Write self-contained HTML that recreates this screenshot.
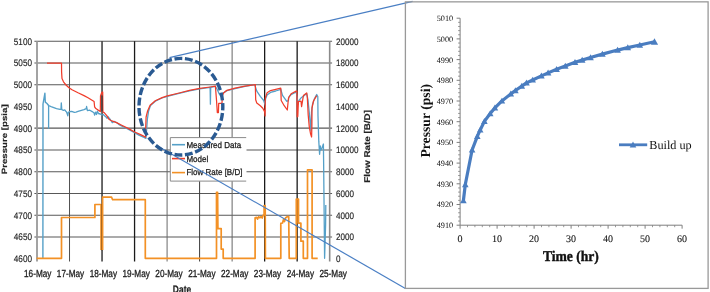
<!DOCTYPE html>
<html><head><meta charset="utf-8"><title>Pressure build-up chart</title>
<style>
html,body{margin:0;padding:0;background:#fff;}
body{width:710px;height:292px;overflow:hidden;}
svg{display:block;text-rendering:geometricPrecision;}
</style></head>
<body>
<svg width="710" height="292" viewBox="0 0 710 292">
<rect width="710" height="292" fill="#fff"/>
<g shape-rendering="auto">
<line x1="34.4" y1="236.9" x2="332.08" y2="236.9" stroke="#585858" stroke-width="1.05"/>
<line x1="34.4" y1="215.15" x2="332.08" y2="215.15" stroke="#585858" stroke-width="1.05"/>
<line x1="34.4" y1="193.4" x2="332.08" y2="193.4" stroke="#585858" stroke-width="1.05"/>
<line x1="34.4" y1="171.65" x2="332.08" y2="171.65" stroke="#585858" stroke-width="1.05"/>
<line x1="34.4" y1="149.9" x2="332.08" y2="149.9" stroke="#585858" stroke-width="1.05"/>
<line x1="34.4" y1="128.15" x2="332.08" y2="128.15" stroke="#585858" stroke-width="1.05"/>
<line x1="34.4" y1="84.65" x2="332.08" y2="84.65" stroke="#585858" stroke-width="1.05"/>
<line x1="34.4" y1="62.9" x2="332.08" y2="62.9" stroke="#585858" stroke-width="1.05"/>
<line x1="34.4" y1="41.15" x2="332.08" y2="41.15" stroke="#585858" stroke-width="1.05"/>
<line x1="37" y1="41.15" x2="37" y2="261.5" stroke="#999" stroke-width="1.8"/>
<line x1="69.52" y1="41.15" x2="69.52" y2="261.5" stroke="#505050" stroke-width="1"/>
<line x1="102.04" y1="41.15" x2="102.04" y2="261.5" stroke="#2a2a2a" stroke-width="1.4"/>
<line x1="134.56" y1="41.15" x2="134.56" y2="261.5" stroke="#1a1a1a" stroke-width="1.3"/>
<line x1="167.08" y1="41.15" x2="167.08" y2="261.5" stroke="#6a6a6a" stroke-width="1"/>
<line x1="199.6" y1="41.15" x2="199.6" y2="261.5" stroke="#3a3a3a" stroke-width="1"/>
<line x1="232.12" y1="41.15" x2="232.12" y2="261.5" stroke="#666" stroke-width="1"/>
<line x1="264.64" y1="41.15" x2="264.64" y2="261.5" stroke="#1a1a1a" stroke-width="1.3"/>
<line x1="297.16" y1="41.15" x2="297.16" y2="261.5" stroke="#1a1a1a" stroke-width="1.3"/>
<line x1="329.68" y1="41.15" x2="329.68" y2="261.5" stroke="#8a8a8a" stroke-width="1.6"/>
</g>
<text transform="translate(32,262.05) scale(1,1.16)" font-family="'Liberation Sans', Arial, sans-serif" font-size="8.2" fill="#222" stroke="#222" stroke-width="0.12" text-anchor="end">4600</text>
<text transform="translate(32,240.3) scale(1,1.16)" font-family="'Liberation Sans', Arial, sans-serif" font-size="8.2" fill="#222" stroke="#222" stroke-width="0.12" text-anchor="end">4650</text>
<text transform="translate(32,218.55) scale(1,1.16)" font-family="'Liberation Sans', Arial, sans-serif" font-size="8.2" fill="#222" stroke="#222" stroke-width="0.12" text-anchor="end">4700</text>
<text transform="translate(32,196.8) scale(1,1.16)" font-family="'Liberation Sans', Arial, sans-serif" font-size="8.2" fill="#222" stroke="#222" stroke-width="0.12" text-anchor="end">4750</text>
<text transform="translate(32,175.05) scale(1,1.16)" font-family="'Liberation Sans', Arial, sans-serif" font-size="8.2" fill="#222" stroke="#222" stroke-width="0.12" text-anchor="end">4800</text>
<text transform="translate(32,153.3) scale(1,1.16)" font-family="'Liberation Sans', Arial, sans-serif" font-size="8.2" fill="#222" stroke="#222" stroke-width="0.12" text-anchor="end">4850</text>
<text transform="translate(32,131.55) scale(1,1.16)" font-family="'Liberation Sans', Arial, sans-serif" font-size="8.2" fill="#222" stroke="#222" stroke-width="0.12" text-anchor="end">4900</text>
<text transform="translate(32,109.8) scale(1,1.16)" font-family="'Liberation Sans', Arial, sans-serif" font-size="8.2" fill="#222" stroke="#222" stroke-width="0.12" text-anchor="end">4950</text>
<text transform="translate(32,88.05) scale(1,1.16)" font-family="'Liberation Sans', Arial, sans-serif" font-size="8.2" fill="#222" stroke="#222" stroke-width="0.12" text-anchor="end">5000</text>
<text transform="translate(32,66.3) scale(1,1.16)" font-family="'Liberation Sans', Arial, sans-serif" font-size="8.2" fill="#222" stroke="#222" stroke-width="0.12" text-anchor="end">5050</text>
<text transform="translate(32,44.55) scale(1,1.16)" font-family="'Liberation Sans', Arial, sans-serif" font-size="8.2" fill="#222" stroke="#222" stroke-width="0.12" text-anchor="end">5100</text>
<text transform="translate(335.9,262.05) scale(1,1.16)" font-family="'Liberation Sans', Arial, sans-serif" font-size="8.1" fill="#222" stroke="#222" stroke-width="0.12" text-anchor="start">0</text>
<text transform="translate(335.9,240.3) scale(1,1.16)" font-family="'Liberation Sans', Arial, sans-serif" font-size="8.1" fill="#222" stroke="#222" stroke-width="0.12" text-anchor="start">2000</text>
<text transform="translate(335.9,218.55) scale(1,1.16)" font-family="'Liberation Sans', Arial, sans-serif" font-size="8.1" fill="#222" stroke="#222" stroke-width="0.12" text-anchor="start">4000</text>
<text transform="translate(335.9,196.8) scale(1,1.16)" font-family="'Liberation Sans', Arial, sans-serif" font-size="8.1" fill="#222" stroke="#222" stroke-width="0.12" text-anchor="start">6000</text>
<text transform="translate(335.9,175.05) scale(1,1.16)" font-family="'Liberation Sans', Arial, sans-serif" font-size="8.1" fill="#222" stroke="#222" stroke-width="0.12" text-anchor="start">8000</text>
<text transform="translate(335.9,153.3) scale(1,1.16)" font-family="'Liberation Sans', Arial, sans-serif" font-size="8.1" fill="#222" stroke="#222" stroke-width="0.12" text-anchor="start">10000</text>
<text transform="translate(335.9,131.55) scale(1,1.16)" font-family="'Liberation Sans', Arial, sans-serif" font-size="8.1" fill="#222" stroke="#222" stroke-width="0.12" text-anchor="start">12000</text>
<text transform="translate(335.9,109.8) scale(1,1.16)" font-family="'Liberation Sans', Arial, sans-serif" font-size="8.1" fill="#222" stroke="#222" stroke-width="0.12" text-anchor="start">14000</text>
<text transform="translate(335.9,88.05) scale(1,1.16)" font-family="'Liberation Sans', Arial, sans-serif" font-size="8.1" fill="#222" stroke="#222" stroke-width="0.12" text-anchor="start">16000</text>
<text transform="translate(335.9,66.3) scale(1,1.16)" font-family="'Liberation Sans', Arial, sans-serif" font-size="8.1" fill="#222" stroke="#222" stroke-width="0.12" text-anchor="start">18000</text>
<text transform="translate(335.9,44.55) scale(1,1.16)" font-family="'Liberation Sans', Arial, sans-serif" font-size="8.1" fill="#222" stroke="#222" stroke-width="0.12" text-anchor="start">20000</text>
<text transform="translate(37.7,276.7) scale(1,1.25)" font-family="'Liberation Sans', Arial, sans-serif" font-size="8.2" fill="#222" stroke="#222" stroke-width="0.25" text-anchor="middle">16-May</text>
<text transform="translate(70.53,276.7) scale(1,1.25)" font-family="'Liberation Sans', Arial, sans-serif" font-size="8.2" fill="#222" stroke="#222" stroke-width="0.25" text-anchor="middle">17-May</text>
<text transform="translate(103.36,276.7) scale(1,1.25)" font-family="'Liberation Sans', Arial, sans-serif" font-size="8.2" fill="#222" stroke="#222" stroke-width="0.25" text-anchor="middle">18-May</text>
<text transform="translate(136.19,276.7) scale(1,1.25)" font-family="'Liberation Sans', Arial, sans-serif" font-size="8.2" fill="#222" stroke="#222" stroke-width="0.25" text-anchor="middle">19-May</text>
<text transform="translate(169.02,276.7) scale(1,1.25)" font-family="'Liberation Sans', Arial, sans-serif" font-size="8.2" fill="#222" stroke="#222" stroke-width="0.25" text-anchor="middle">20-May</text>
<text transform="translate(201.85,276.7) scale(1,1.25)" font-family="'Liberation Sans', Arial, sans-serif" font-size="8.2" fill="#222" stroke="#222" stroke-width="0.25" text-anchor="middle">21-May</text>
<text transform="translate(234.68,276.7) scale(1,1.25)" font-family="'Liberation Sans', Arial, sans-serif" font-size="8.2" fill="#222" stroke="#222" stroke-width="0.25" text-anchor="middle">22-May</text>
<text transform="translate(267.51,276.7) scale(1,1.25)" font-family="'Liberation Sans', Arial, sans-serif" font-size="8.2" fill="#222" stroke="#222" stroke-width="0.25" text-anchor="middle">23-May</text>
<text transform="translate(300.34,276.7) scale(1,1.25)" font-family="'Liberation Sans', Arial, sans-serif" font-size="8.2" fill="#222" stroke="#222" stroke-width="0.25" text-anchor="middle">24-May</text>
<text transform="translate(333.17,276.7) scale(1,1.25)" font-family="'Liberation Sans', Arial, sans-serif" font-size="8.2" fill="#222" stroke="#222" stroke-width="0.25" text-anchor="middle">25-May</text>
<text transform="translate(182,292.6) scale(1.02,1.3)" font-family="'Liberation Sans', Arial, sans-serif" font-size="8.3" font-weight="bold" fill="#222" stroke="#222" stroke-width="0.15" text-anchor="middle">Date</text>
<text transform="translate(6.5,139.3) rotate(-90) scale(1.21,0.96)" font-family="'Liberation Sans', Arial, sans-serif" font-size="8" font-weight="bold" fill="#222" stroke="#222" stroke-width="0.15" text-anchor="middle">Pressure [psia]</text>
<text transform="translate(369.9,146.4) rotate(-90) scale(1.23,1.05)" font-family="'Liberation Sans', Arial, sans-serif" font-size="8" font-weight="bold" fill="#222" stroke="#222" stroke-width="0.15" text-anchor="middle">Flow Rate [B/D]</text>
<g fill="none" stroke-linejoin="round" stroke-linecap="butt">
<polyline points="42.9,258.3 43,104 44.9,93.2 45.3,102.1 47,103.5 48.6,105.5" stroke="#55a0c8" stroke-width="1.4"/>
<polyline points="48.6,128.8 48.6,105.5 51.1,106.6 53.8,107.6 56.5,108.6 60,109.4 61,109.4 61.3,102.8 61.8,109.7 63.4,110.3 64.8,109.9 65.5,111 66.4,111.7 67.2,113.8 67.8,115.8 68.3,112.4 69.6,111.7 71.6,111.3 74.4,112.4 76,112.1 78,111.4 84,109.7 86.2,108.6 86.6,106.5 87.4,110.6 89.8,110.2 92.2,111.6 94.1,113 94.6,115 95.5,112.1 96.5,114.5 97.4,111.1 98.4,113.5 100.3,114 101.8,115 103.2,114.5 104.6,115.9 105.6,116.5 107.1,118.3 108,116.6 110.6,120 112.3,122.6 114,121.4 116.6,122.6 119,124.6 123,126.7 128.6,129.4 133.7,132.3 138.9,135.1 144,137.4 145.9,138.4 146.6,130 147.4,119 148.6,111 150.5,105.6 155.3,101.2 162,98 167.3,96.4 179,93.4 189.5,90.8 199.8,88.8 210.1,87.3 210.4,104.2 210.7,87.3 215.3,86.4 217,89 219,93.5 222,97.5 222.6,93.5 226.9,90.6 235,88.6 245,86.3 254.7,84.7 256.8,91.1 260.3,96.3 263.7,100.5 265.2,105.2 265.5,99 267.1,95 270.5,92.4 275.7,91 280.8,89.4 282.5,95.4 286.8,101.4 288.4,100.5 288.9,97 291.1,94.6 296.2,92 297.2,98 297.8,104.5 299,100.5 301.1,97.8 303.4,96.2 306.7,93.6 308,100 309.5,115 311,131 311.5,112 312.5,104.5 314.5,98.5 316.7,94.5 317.8,96.5 318,116 318.8,141.4 319.6,154.3 320.3,146 321,150 322.1,147.8 323.4,144 323.6,160 324.6,258.3 325.6,225 325.8,205" stroke="#55a0c8" stroke-width="1.3"/>
<polyline points="47,63.1 61.5,63.1 61.6,72 62,78.5 63.5,81.8 66,85 69,87.8 72,89.8 78,92.8 84,95.6 88,97.8 94.1,101.5 94.6,106.8 95.5,108.2 98.4,110.2 100.3,111.6 100.5,96 101.8,92.4 102.7,92 102.9,112 104.2,112.6 107,115.9 108.9,119.2 111,120.5 113.2,121.4 116.6,122.6 121.7,125.2 128.6,128.6 134.6,132 140.6,134.6 145.6,137.1 145.6,130 146.1,117 147.6,111 150.1,105.2 155.3,100.7 162.1,97.6 167.3,95.9 179.2,93 189.5,90.4 199.8,88.4 210.1,87 215.4,86.2 216.5,100 217.3,112.5 218.4,112.5 218.7,103.3 222,103.3 222.3,96 223.5,93 226.9,90.3 235,88.2 245,86.2 255.3,84.6 255.7,99.7 256.8,103.1 260.3,105.7 262.8,108.3 264.6,111.7 265.1,116 265.3,98 267.1,92.8 270.5,90.6 275.7,89.4 280.8,88.2 281.2,100.5 284.2,105.7 287.3,110 288.5,98 291.1,93.7 296.2,91.1 296.9,91 297.2,116.8 297.8,116.6 298.4,101.5 301,101.2 301.6,106.7 303.4,95.6 306.7,92.9 307.3,97 308.2,115 309.3,127 310.5,133.5 311.6,137 311.9,125 312,108 313.5,101 316.7,95.6" stroke="#f03c2a" stroke-width="1.25"/>
<polyline points="36.6,258.3 61.5,258.3 61.5,217.5 94.9,217.5 94.9,204.5 101.2,204.5" stroke="#f39125" stroke-width="1.7"/>
<polyline points="101.6,204.5 101.6,250" stroke="#f39125" stroke-width="2.8"/>
<line x1="101.9" y1="204" x2="101.9" y2="250.5" stroke="#5a3a1a" stroke-width="1"/>
<line x1="102.04" y1="95.5" x2="102.04" y2="111.5" stroke="#333" stroke-width="1.2"/>
<rect x="296.3" y="199.2" width="2.2" height="24" fill="#f39125"/>
<line x1="297.1" y1="199.2" x2="297.1" y2="223" stroke="#6a4a2a" stroke-width="0.8"/>
<polyline points="102.6,250 102.6,197.2 111.6,197.2 112.6,199.7 145.3,199.7 145.3,258.3 216.5,258.3 216.5,192.4 217.6,192.4 217.9,228.6 221.2,228.6 221.2,249.1 223.2,249.1 223.2,258.3 255.1,258.3 255.1,217.8 256.5,217.4 257.5,219.2 258.5,216.8 260,217.8 261,216.6 262.2,218 263.2,215.2 264.1,215 264.1,205.5 265.2,205.5 265.4,258.3 280.8,258.3 280.8,223.4 282.5,223 283.5,219.5 284.5,221.5 285.5,218 286.5,217.2 287.5,216.5 288.7,216.5 289.2,258.3 296.3,258.3 296.3,199.2 298.5,199.2 298.5,223.2 300.9,223.2 300.9,241.2 303.3,241.2 303.3,258.3 307.5,258.3 307.5,169.9 312.1,169.9 312.1,258.3 317.7,258.3" stroke="#f39125" stroke-width="1.7"/>
</g>
<rect x="170.3" y="137.6" width="76.2" height="43.6" fill="#fff"/>
<polyline points="246.2,137.6 170.3,137.6 170.3,181.1 246.2,181.1" fill="none" stroke="#8a8a8a" stroke-width="1"/>
<line x1="172" y1="144.7" x2="185" y2="144.7" stroke="#55a0c8" stroke-width="1.6"/>
<line x1="172" y1="158.6" x2="185" y2="158.6" stroke="#f03c2a" stroke-width="1.6"/>
<line x1="172" y1="172.6" x2="185" y2="172.6" stroke="#f39125" stroke-width="1.6"/>
<text transform="translate(186.4,148.1) scale(1,1.08)" font-family="'Liberation Sans', Arial, sans-serif" font-size="8" fill="#222" stroke="#222" stroke-width="0.25" text-anchor="start">Measured Data</text>
<text transform="translate(186.4,162) scale(1,1.08)" font-family="'Liberation Sans', Arial, sans-serif" font-size="8" fill="#222" stroke="#222" stroke-width="0.25" text-anchor="start">Model</text>
<text transform="translate(186.4,175.3) scale(1,1.08)" font-family="'Liberation Sans', Arial, sans-serif" font-size="8" fill="#222" stroke="#222" stroke-width="0.25" text-anchor="start">Flow Rate [B/D]</text>
<line x1="169.5" y1="57.6" x2="412.6" y2="1.4" stroke="#4a7fc4" stroke-width="1.2"/>
<line x1="157.5" y1="146" x2="405.4" y2="288.4" stroke="#4a7fc4" stroke-width="1.2"/>
<ellipse cx="180.9" cy="106.7" rx="41.9" ry="48.3" fill="none" stroke="#2a5a92" stroke-width="3.4" stroke-dasharray="7.88 2.63" stroke-dashoffset="4.2"/>
<rect x="405.4" y="1.85" width="302.7" height="286.55" fill="none" stroke="#999" stroke-width="1.3"/>
<line x1="460.1" y1="18.2" x2="460.1" y2="225.2" stroke="#7f7f7f" stroke-width="1"/>
<line x1="456.6" y1="225.2" x2="460.1" y2="225.2" stroke="#7f7f7f" stroke-width="1"/>
<line x1="458.1" y1="221.06" x2="460.1" y2="221.06" stroke="#7f7f7f" stroke-width="0.8"/>
<line x1="458.1" y1="216.92" x2="460.1" y2="216.92" stroke="#7f7f7f" stroke-width="0.8"/>
<line x1="458.1" y1="212.78" x2="460.1" y2="212.78" stroke="#7f7f7f" stroke-width="0.8"/>
<line x1="458.1" y1="208.64" x2="460.1" y2="208.64" stroke="#7f7f7f" stroke-width="0.8"/>
<line x1="456.6" y1="204.5" x2="460.1" y2="204.5" stroke="#7f7f7f" stroke-width="1"/>
<line x1="458.1" y1="200.36" x2="460.1" y2="200.36" stroke="#7f7f7f" stroke-width="0.8"/>
<line x1="458.1" y1="196.22" x2="460.1" y2="196.22" stroke="#7f7f7f" stroke-width="0.8"/>
<line x1="458.1" y1="192.08" x2="460.1" y2="192.08" stroke="#7f7f7f" stroke-width="0.8"/>
<line x1="458.1" y1="187.94" x2="460.1" y2="187.94" stroke="#7f7f7f" stroke-width="0.8"/>
<line x1="456.6" y1="183.8" x2="460.1" y2="183.8" stroke="#7f7f7f" stroke-width="1"/>
<line x1="458.1" y1="179.66" x2="460.1" y2="179.66" stroke="#7f7f7f" stroke-width="0.8"/>
<line x1="458.1" y1="175.52" x2="460.1" y2="175.52" stroke="#7f7f7f" stroke-width="0.8"/>
<line x1="458.1" y1="171.38" x2="460.1" y2="171.38" stroke="#7f7f7f" stroke-width="0.8"/>
<line x1="458.1" y1="167.24" x2="460.1" y2="167.24" stroke="#7f7f7f" stroke-width="0.8"/>
<line x1="456.6" y1="163.1" x2="460.1" y2="163.1" stroke="#7f7f7f" stroke-width="1"/>
<line x1="458.1" y1="158.96" x2="460.1" y2="158.96" stroke="#7f7f7f" stroke-width="0.8"/>
<line x1="458.1" y1="154.82" x2="460.1" y2="154.82" stroke="#7f7f7f" stroke-width="0.8"/>
<line x1="458.1" y1="150.68" x2="460.1" y2="150.68" stroke="#7f7f7f" stroke-width="0.8"/>
<line x1="458.1" y1="146.54" x2="460.1" y2="146.54" stroke="#7f7f7f" stroke-width="0.8"/>
<line x1="456.6" y1="142.4" x2="460.1" y2="142.4" stroke="#7f7f7f" stroke-width="1"/>
<line x1="458.1" y1="138.26" x2="460.1" y2="138.26" stroke="#7f7f7f" stroke-width="0.8"/>
<line x1="458.1" y1="134.12" x2="460.1" y2="134.12" stroke="#7f7f7f" stroke-width="0.8"/>
<line x1="458.1" y1="129.98" x2="460.1" y2="129.98" stroke="#7f7f7f" stroke-width="0.8"/>
<line x1="458.1" y1="125.84" x2="460.1" y2="125.84" stroke="#7f7f7f" stroke-width="0.8"/>
<line x1="456.6" y1="121.7" x2="460.1" y2="121.7" stroke="#7f7f7f" stroke-width="1"/>
<line x1="458.1" y1="117.56" x2="460.1" y2="117.56" stroke="#7f7f7f" stroke-width="0.8"/>
<line x1="458.1" y1="113.42" x2="460.1" y2="113.42" stroke="#7f7f7f" stroke-width="0.8"/>
<line x1="458.1" y1="109.28" x2="460.1" y2="109.28" stroke="#7f7f7f" stroke-width="0.8"/>
<line x1="458.1" y1="105.14" x2="460.1" y2="105.14" stroke="#7f7f7f" stroke-width="0.8"/>
<line x1="456.6" y1="101" x2="460.1" y2="101" stroke="#7f7f7f" stroke-width="1"/>
<line x1="458.1" y1="96.86" x2="460.1" y2="96.86" stroke="#7f7f7f" stroke-width="0.8"/>
<line x1="458.1" y1="92.72" x2="460.1" y2="92.72" stroke="#7f7f7f" stroke-width="0.8"/>
<line x1="458.1" y1="88.58" x2="460.1" y2="88.58" stroke="#7f7f7f" stroke-width="0.8"/>
<line x1="458.1" y1="84.44" x2="460.1" y2="84.44" stroke="#7f7f7f" stroke-width="0.8"/>
<line x1="456.6" y1="80.3" x2="460.1" y2="80.3" stroke="#7f7f7f" stroke-width="1"/>
<line x1="458.1" y1="76.16" x2="460.1" y2="76.16" stroke="#7f7f7f" stroke-width="0.8"/>
<line x1="458.1" y1="72.02" x2="460.1" y2="72.02" stroke="#7f7f7f" stroke-width="0.8"/>
<line x1="458.1" y1="67.88" x2="460.1" y2="67.88" stroke="#7f7f7f" stroke-width="0.8"/>
<line x1="458.1" y1="63.74" x2="460.1" y2="63.74" stroke="#7f7f7f" stroke-width="0.8"/>
<line x1="456.6" y1="59.6" x2="460.1" y2="59.6" stroke="#7f7f7f" stroke-width="1"/>
<line x1="458.1" y1="55.46" x2="460.1" y2="55.46" stroke="#7f7f7f" stroke-width="0.8"/>
<line x1="458.1" y1="51.32" x2="460.1" y2="51.32" stroke="#7f7f7f" stroke-width="0.8"/>
<line x1="458.1" y1="47.18" x2="460.1" y2="47.18" stroke="#7f7f7f" stroke-width="0.8"/>
<line x1="458.1" y1="43.04" x2="460.1" y2="43.04" stroke="#7f7f7f" stroke-width="0.8"/>
<line x1="456.6" y1="38.9" x2="460.1" y2="38.9" stroke="#7f7f7f" stroke-width="1"/>
<line x1="458.1" y1="34.76" x2="460.1" y2="34.76" stroke="#7f7f7f" stroke-width="0.8"/>
<line x1="458.1" y1="30.62" x2="460.1" y2="30.62" stroke="#7f7f7f" stroke-width="0.8"/>
<line x1="458.1" y1="26.48" x2="460.1" y2="26.48" stroke="#7f7f7f" stroke-width="0.8"/>
<line x1="458.1" y1="22.34" x2="460.1" y2="22.34" stroke="#7f7f7f" stroke-width="0.8"/>
<line x1="456.6" y1="18.2" x2="460.1" y2="18.2" stroke="#7f7f7f" stroke-width="1"/>
<text x="453.1" y="228.1" font-family="'Liberation Serif', 'Times New Roman', serif" font-size="8.2" fill="#111" text-anchor="end">4910</text>
<text x="453.1" y="207.4" font-family="'Liberation Serif', 'Times New Roman', serif" font-size="8.2" fill="#111" text-anchor="end">4920</text>
<text x="453.1" y="186.7" font-family="'Liberation Serif', 'Times New Roman', serif" font-size="8.2" fill="#111" text-anchor="end">4930</text>
<text x="453.1" y="166" font-family="'Liberation Serif', 'Times New Roman', serif" font-size="8.2" fill="#111" text-anchor="end">4940</text>
<text x="453.1" y="145.3" font-family="'Liberation Serif', 'Times New Roman', serif" font-size="8.2" fill="#111" text-anchor="end">4950</text>
<text x="453.1" y="124.6" font-family="'Liberation Serif', 'Times New Roman', serif" font-size="8.2" fill="#111" text-anchor="end">4960</text>
<text x="453.1" y="103.9" font-family="'Liberation Serif', 'Times New Roman', serif" font-size="8.2" fill="#111" text-anchor="end">4970</text>
<text x="453.1" y="83.2" font-family="'Liberation Serif', 'Times New Roman', serif" font-size="8.2" fill="#111" text-anchor="end">4980</text>
<text x="453.1" y="62.5" font-family="'Liberation Serif', 'Times New Roman', serif" font-size="8.2" fill="#111" text-anchor="end">4990</text>
<text x="453.1" y="41.8" font-family="'Liberation Serif', 'Times New Roman', serif" font-size="8.2" fill="#111" text-anchor="end">5000</text>
<text x="453.1" y="21.1" font-family="'Liberation Serif', 'Times New Roman', serif" font-size="8.2" fill="#111" text-anchor="end">5010</text>
<line x1="460.1" y1="225.2" x2="682.1" y2="225.2" stroke="#7f7f7f" stroke-width="1"/>
<line x1="460.1" y1="225.2" x2="460.1" y2="228.7" stroke="#7f7f7f" stroke-width="1"/>
<line x1="467.5" y1="225.2" x2="467.5" y2="227.2" stroke="#7f7f7f" stroke-width="0.8"/>
<line x1="474.9" y1="225.2" x2="474.9" y2="227.2" stroke="#7f7f7f" stroke-width="0.8"/>
<line x1="482.3" y1="225.2" x2="482.3" y2="227.2" stroke="#7f7f7f" stroke-width="0.8"/>
<line x1="489.7" y1="225.2" x2="489.7" y2="227.2" stroke="#7f7f7f" stroke-width="0.8"/>
<line x1="497.1" y1="225.2" x2="497.1" y2="228.7" stroke="#7f7f7f" stroke-width="1"/>
<line x1="504.5" y1="225.2" x2="504.5" y2="227.2" stroke="#7f7f7f" stroke-width="0.8"/>
<line x1="511.9" y1="225.2" x2="511.9" y2="227.2" stroke="#7f7f7f" stroke-width="0.8"/>
<line x1="519.3" y1="225.2" x2="519.3" y2="227.2" stroke="#7f7f7f" stroke-width="0.8"/>
<line x1="526.7" y1="225.2" x2="526.7" y2="227.2" stroke="#7f7f7f" stroke-width="0.8"/>
<line x1="534.1" y1="225.2" x2="534.1" y2="228.7" stroke="#7f7f7f" stroke-width="1"/>
<line x1="541.5" y1="225.2" x2="541.5" y2="227.2" stroke="#7f7f7f" stroke-width="0.8"/>
<line x1="548.9" y1="225.2" x2="548.9" y2="227.2" stroke="#7f7f7f" stroke-width="0.8"/>
<line x1="556.3" y1="225.2" x2="556.3" y2="227.2" stroke="#7f7f7f" stroke-width="0.8"/>
<line x1="563.7" y1="225.2" x2="563.7" y2="227.2" stroke="#7f7f7f" stroke-width="0.8"/>
<line x1="571.1" y1="225.2" x2="571.1" y2="228.7" stroke="#7f7f7f" stroke-width="1"/>
<line x1="578.5" y1="225.2" x2="578.5" y2="227.2" stroke="#7f7f7f" stroke-width="0.8"/>
<line x1="585.9" y1="225.2" x2="585.9" y2="227.2" stroke="#7f7f7f" stroke-width="0.8"/>
<line x1="593.3" y1="225.2" x2="593.3" y2="227.2" stroke="#7f7f7f" stroke-width="0.8"/>
<line x1="600.7" y1="225.2" x2="600.7" y2="227.2" stroke="#7f7f7f" stroke-width="0.8"/>
<line x1="608.1" y1="225.2" x2="608.1" y2="228.7" stroke="#7f7f7f" stroke-width="1"/>
<line x1="615.5" y1="225.2" x2="615.5" y2="227.2" stroke="#7f7f7f" stroke-width="0.8"/>
<line x1="622.9" y1="225.2" x2="622.9" y2="227.2" stroke="#7f7f7f" stroke-width="0.8"/>
<line x1="630.3" y1="225.2" x2="630.3" y2="227.2" stroke="#7f7f7f" stroke-width="0.8"/>
<line x1="637.7" y1="225.2" x2="637.7" y2="227.2" stroke="#7f7f7f" stroke-width="0.8"/>
<line x1="645.1" y1="225.2" x2="645.1" y2="228.7" stroke="#7f7f7f" stroke-width="1"/>
<line x1="652.5" y1="225.2" x2="652.5" y2="227.2" stroke="#7f7f7f" stroke-width="0.8"/>
<line x1="659.9" y1="225.2" x2="659.9" y2="227.2" stroke="#7f7f7f" stroke-width="0.8"/>
<line x1="667.3" y1="225.2" x2="667.3" y2="227.2" stroke="#7f7f7f" stroke-width="0.8"/>
<line x1="674.7" y1="225.2" x2="674.7" y2="227.2" stroke="#7f7f7f" stroke-width="0.8"/>
<line x1="682.1" y1="225.2" x2="682.1" y2="228.7" stroke="#7f7f7f" stroke-width="1"/>
<text transform="translate(460.1,241.8)" font-family="'Liberation Serif', 'Times New Roman', serif" font-size="10" fill="#222" stroke="#222" stroke-width="0.12" text-anchor="middle">0</text>
<text transform="translate(497.1,241.8)" font-family="'Liberation Serif', 'Times New Roman', serif" font-size="10" fill="#222" stroke="#222" stroke-width="0.12" text-anchor="middle">10</text>
<text transform="translate(534.1,241.8)" font-family="'Liberation Serif', 'Times New Roman', serif" font-size="10" fill="#222" stroke="#222" stroke-width="0.12" text-anchor="middle">20</text>
<text transform="translate(571.1,241.8)" font-family="'Liberation Serif', 'Times New Roman', serif" font-size="10" fill="#222" stroke="#222" stroke-width="0.12" text-anchor="middle">30</text>
<text transform="translate(608.1,241.8)" font-family="'Liberation Serif', 'Times New Roman', serif" font-size="10" fill="#222" stroke="#222" stroke-width="0.12" text-anchor="middle">40</text>
<text transform="translate(645.1,241.8)" font-family="'Liberation Serif', 'Times New Roman', serif" font-size="10" fill="#222" stroke="#222" stroke-width="0.12" text-anchor="middle">50</text>
<text transform="translate(682.1,241.8)" font-family="'Liberation Serif', 'Times New Roman', serif" font-size="10" fill="#222" stroke="#222" stroke-width="0.12" text-anchor="middle">60</text>
<text transform="translate(570.9,260.9) scale(1,1.1)" font-family="'Liberation Serif', 'Times New Roman', serif" font-size="13.6" font-weight="bold" fill="#111" stroke="#111" stroke-width="0.35" text-anchor="middle">Time (hr)</text>
<text transform="translate(429.8,120.8) rotate(-90)" x="0" y="0" font-family="'Liberation Serif', 'Times New Roman', serif" font-size="13.7" font-weight="bold" fill="#111" text-anchor="middle">Pressur (psi)</text>
<polyline points="463.4,200.5 465.3,184.5 472.1,149.95 477.3,136.39 480.2,129.93 484.4,121.36 490.2,113.54 494.9,107.87 501.9,100.98 510.8,93.91 515.4,90.5 521.8,86.12 526.5,82.87 532.7,79.97 541.4,75.92 548.1,72.86 556.6,69.25 565.3,66.06 575,62.33 582.2,60.12 590.5,57.52 602.4,54.15 617.6,50.07 627.8,47.63 639.8,45.06 654.5,41.76" fill="none" stroke="#4a7dc0" stroke-width="3.2" stroke-linejoin="round"/>
<polygon points="463.4,197.2 460.1,203.14 466.7,203.14" fill="#4a7dc0"/>
<polygon points="465.3,181.2 462,187.14 468.6,187.14" fill="#4a7dc0"/>
<polygon points="472.1,146.65 468.8,152.59 475.4,152.59" fill="#4a7dc0"/>
<polygon points="477.3,133.09 474,139.03 480.6,139.03" fill="#4a7dc0"/>
<polygon points="480.2,126.63 476.9,132.57 483.5,132.57" fill="#4a7dc0"/>
<polygon points="484.4,118.06 481.1,124 487.7,124" fill="#4a7dc0"/>
<polygon points="490.2,110.24 486.9,116.18 493.5,116.18" fill="#4a7dc0"/>
<polygon points="494.9,104.57 491.6,110.51 498.2,110.51" fill="#4a7dc0"/>
<polygon points="501.9,97.68 498.6,103.62 505.2,103.62" fill="#4a7dc0"/>
<polygon points="510.8,90.61 507.5,96.55 514.1,96.55" fill="#4a7dc0"/>
<polygon points="515.4,87.2 512.1,93.14 518.7,93.14" fill="#4a7dc0"/>
<polygon points="521.8,82.82 518.5,88.76 525.1,88.76" fill="#4a7dc0"/>
<polygon points="526.5,79.57 523.2,85.51 529.8,85.51" fill="#4a7dc0"/>
<polygon points="532.7,76.67 529.4,82.61 536,82.61" fill="#4a7dc0"/>
<polygon points="541.4,72.62 538.1,78.56 544.7,78.56" fill="#4a7dc0"/>
<polygon points="548.1,69.56 544.8,75.5 551.4,75.5" fill="#4a7dc0"/>
<polygon points="556.6,65.95 553.3,71.89 559.9,71.89" fill="#4a7dc0"/>
<polygon points="565.3,62.76 562,68.7 568.6,68.7" fill="#4a7dc0"/>
<polygon points="575,59.03 571.7,64.97 578.3,64.97" fill="#4a7dc0"/>
<polygon points="582.2,56.82 578.9,62.76 585.5,62.76" fill="#4a7dc0"/>
<polygon points="590.5,54.22 587.2,60.16 593.8,60.16" fill="#4a7dc0"/>
<polygon points="602.4,50.85 599.1,56.79 605.7,56.79" fill="#4a7dc0"/>
<polygon points="617.6,46.77 614.3,52.71 620.9,52.71" fill="#4a7dc0"/>
<polygon points="627.8,44.33 624.5,50.27 631.1,50.27" fill="#4a7dc0"/>
<polygon points="639.8,41.76 636.5,47.7 643.1,47.7" fill="#4a7dc0"/>
<polygon points="654.5,38.16 650.9,44.64 658.1,44.64" fill="#4a7dc0"/>
<line x1="619" y1="144.8" x2="647.2" y2="144.8" stroke="#4a7dc0" stroke-width="2.8"/>
<polygon points="633,141.5 629.7,147.44 636.3,147.44" fill="#4a7dc0"/>
<text x="649.3" y="149" font-family="'Liberation Serif', 'Times New Roman', serif" font-size="12.2" fill="#111">Build up</text>
</svg>
</body></html>
